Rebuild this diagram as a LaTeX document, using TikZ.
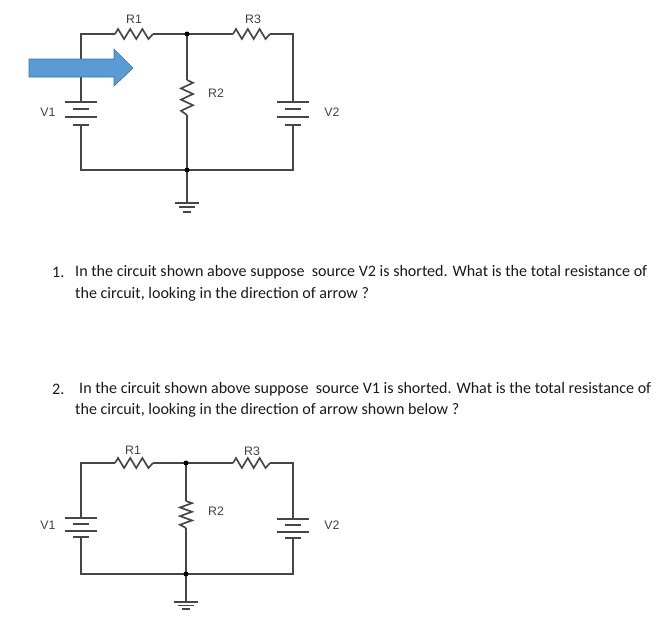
\documentclass[tikz,border=0pt]{standalone}
\usepackage{fontspec}
\setmainfont{Carlito}
\newfontfamily\labelfont{Liberation Sans}
\usetikzlibrary{calc,shapes.arrows}
\definecolor{arrowblue}{RGB}{91,155,213}
\definecolor{arrowedge}{RGB}{65,113,156}
\definecolor{wiregray}{RGB}{70,70,70}
\tikzset{
	wire/.style={line width=0.5mm, color=wiregray},
	part/.style={font=\labelfont\fontsize{10.5}{12}\selectfont, color=black!75},
	question/.style={anchor=west, inner sep=0pt, font=\fontsize{13.7}{16}\selectfont, color=black!90},
	junction/.style={circle, fill=black, inner sep=0pt, minimum size=1.5mm}
}
% zigzag between two points, #1 is the sideways direction
\def\zigzag[#1](#2)(#3){\draw[wire] (#2) -- ($(#2)!0.08!(#3)+#1$) -- ($(#2)!0.24!(#3)-#1$) -- ($(#2)!0.40!(#3)+#1$) -- ($(#2)!0.56!(#3)-#1$) -- ($(#2)!0.72!(#3)+#1$) -- ($(#2)!0.88!(#3)-#1$) -- (#3);}
% battery plates at four heights
\def\plates(#1)(#2:#3:#4:#5){
	\draw[wire] ($(#1)+(-16,#2)$) -- ($(#1)+(16,#2)$);
	\draw[wire] ($(#1)+(-8,#3)$) -- ($(#1)+(8,#3)$);
	\draw[wire] ($(#1)+(-16,#4)$) -- ($(#1)+(16,#4)$);
	\draw[wire] ($(#1)+(-8,#5)$) -- ($(#1)+(8,#5)$);
}
\begin{document}
\begin{tikzpicture}[x=0.03cm, y=-0.03cm]
	\useasboundingbox (0, 0) rectangle (663, 632);

	%%%%% upper circuit %%%%%
	\coordinate (tl1) at (81, 34);
	\coordinate (tr1) at (293, 34);
	\coordinate (bl1) at (81, 170);
	\coordinate (br1) at (293, 170);
	\coordinate (ra1) at (115, 34);
	\coordinate (rb1) at (153, 34);
	\coordinate (rc1) at (233, 34);
	\coordinate (rd1) at (270, 34);
	\coordinate (re1) at (187, 80);
	\coordinate (rf1) at (187, 115);
	\coordinate (gnd1) at (187, 203);
	\coordinate (bat1) at (81, 102);
	\coordinate (bbt1) at (81, 125);
	\coordinate (bat2) at (293, 102);
	\coordinate (bbt2) at (293, 125);

	\draw[wire] (bat1) -- (tl1) -- (ra1);
	\zigzag[(0,-5)](ra1)(rb1);
	\draw[wire] (rb1) -- (187, 34) -- (rc1);
	\zigzag[(0,-5)](rc1)(rd1);
	\draw[wire] (rd1) -- (tr1) -- (bat2);
	\draw[wire] (187, 34) -- (re1);
	\zigzag[(6,0)](re1)(rf1);
	\draw[wire] (rf1) -- (187, 170) -- (gnd1);
	\draw[wire] (bbt1) -- (bl1) -- (br1) -- (bbt2);
	\plates(bat1)(0:7:15:23);
	\plates(bat2)(0:7:15:23);
	\draw[wire] ($(gnd1)+(-12,0)$) -- ($(gnd1)+(12,0)$);
	\draw[wire] ($(gnd1)+(-8,4)$) -- ($(gnd1)+(8,4)$);
	\draw[wire] ($(gnd1)+(-4,9)$) -- ($(gnd1)+(4,9)$);
	\node[junction] (top1) at (187, 34) {};
	\node[junction] (bot1) at (187, 170) {};

	\node[part] (r11) at (134, 19) {R1};
	\node[part] (r31) at (253, 19) {R3};
	\node[part] (r21) at (216, 93) {R2};
	\node[part] (v11) at (48, 112) {V1};
	\node[part] (v21) at (332, 112) {V2};

	\draw[fill=arrowblue, draw=arrowedge, line width=0.2mm] (29, 59) -- (114, 59) -- (114, 49) -- (133, 68) -- (114, 86) -- (114, 77) -- (29, 77) -- cycle;

	%%%%% questions %%%%%
	\node[question] (num1) at (52, 272) {1.};
	\node[question] (q1a) at (75, 272) {In the circuit shown above suppose\ \ source V2 is shorted. What is the total resistance of};
	\node[question] (q1b) at (75, 294) {the circuit, looking in the direction of arrow ?};
	\node[question] (num2) at (52, 389) {2.};
	\node[question] (q2a) at (79, 389) {In the circuit shown above suppose\ \ source V1 is shorted. What is the total resistance of};
	\node[question] (q2b) at (75, 410) {the circuit, looking in the direction of arrow shown below ?};

	%%%%% lower circuit %%%%%
	\coordinate (tl2) at (81, 463);
	\coordinate (tr2) at (293, 463);
	\coordinate (bl2) at (81, 574);
	\coordinate (br2) at (293, 574);
	\coordinate (ra2) at (115, 463);
	\coordinate (rb2) at (153, 463);
	\coordinate (rc2) at (233, 463);
	\coordinate (rd2) at (270, 463);
	\coordinate (re2) at (186, 501);
	\coordinate (rf2) at (186, 528);
	\coordinate (gnd2) at (186, 602);
	\coordinate (bat3) at (81, 518);
	\coordinate (bbt3) at (81, 537);
	\coordinate (bat4) at (293, 519);
	\coordinate (bbt4) at (293, 538);

	\draw[wire] (bat3) -- (tl2) -- (ra2);
	\zigzag[(0,-5)](ra2)(rb2);
	\draw[wire] (rb2) -- (186, 463) -- (rc2);
	\zigzag[(0,-5)](rc2)(rd2);
	\draw[wire] (rd2) -- (tr2) -- (bat4);
	\draw[wire] (186, 463) -- (re2);
	\zigzag[(6,0)](re2)(rf2);
	\draw[wire] (rf2) -- (186, 574) -- (gnd2);
	\draw[wire] (bbt3) -- (bl2) -- (br2) -- (bbt4);
	\plates(bat3)(0:6:13:19);
	\plates(bat4)(0:6:13:19);
	\draw[wire] ($(gnd2)+(-12,0)$) -- ($(gnd2)+(12,0)$);
	\draw[wire] ($(gnd2)+(-8,3.5)$) -- ($(gnd2)+(8,3.5)$);
	\draw[wire] ($(gnd2)+(-4,7)$) -- ($(gnd2)+(4,7)$);
	\node[junction] (top2) at (186, 463) {};
	\node[junction] (bot2) at (186, 574) {};

	\node[part] (r12) at (133, 450) {R1};
	\node[part] (r32) at (252, 451) {R3};
	\node[part] (r22) at (216, 511) {R2};
	\node[part] (v12) at (48, 525) {V1};
	\node[part] (v22) at (332, 525) {V2};
\end{tikzpicture}
\end{document}
